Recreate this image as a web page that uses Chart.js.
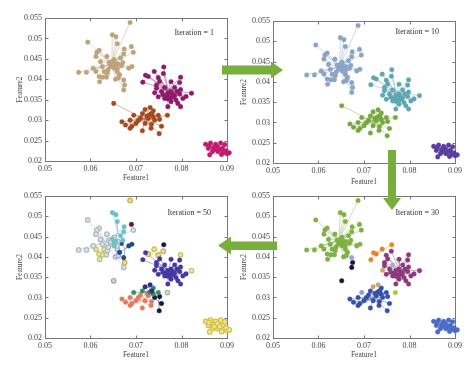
<!DOCTYPE html>
<html><head><meta charset="utf-8">
<script src="https://cdn.jsdelivr.net/npm/chart.js@4.4.1/dist/chart.umd.min.js"></script>
<style>
html,body{margin:0;padding:0;background:#fff;}
#wrap{position:relative;width:474px;height:375px;overflow:hidden;background:#fff;}
canvas{position:absolute;}
svg{position:absolute;left:0;top:0;}
</style></head><body>
<div id="wrap">
<canvas id="c1" width="237" height="187" style="left:0px;top:0px"></canvas>
<canvas id="c2" width="237" height="187" style="left:237px;top:0px"></canvas>
<canvas id="c3" width="237" height="188" style="left:0px;top:187px"></canvas>
<canvas id="c4" width="237" height="188" style="left:237px;top:187px"></canvas>
<svg width="474" height="375">
<polygon fill="#79ad3c" points="222,65.5 271,65.5 271,61.5 283,70 271,78.5 271,74.5 222,74.5"/>
<polygon fill="#79ad3c" points="388,150 396,150 396,198 401,198 392,210 383,198 388,198"/>
<polygon fill="#79ad3c" points="277,241.5 231,241.5 231,236.5 218,245.5 231,254.5 231,250 277,250"/>
</svg>
</div>
<script>
// ---- axes ----
const xTicks = [0.05, 0.06, 0.07, 0.08, 0.09];
const xTickLabels = ['0.05', '0.06', '0.07', '0.08', '0.09'];
const yTicks = [0.02, 0.025, 0.03, 0.035, 0.04, 0.045, 0.05, 0.055];
const yTickLabels = ['0.02', '0.025', '0.03', '0.035', '0.04', '0.045', '0.05', '0.055'];
const xTitle = 'Feature1';
const yTitle = 'Feature2';

// ---- data points (same samples in every panel) ----
const groupA_x = [0.0687,0.0648,0.0656,0.0594,0.0659,0.0690,0.0674,0.0619,0.0614,0.0694,0.0673,0.0612,0.0636,0.0666,0.0622,0.0641,0.0652,0.0655,0.0671,0.0691,0.0684,0.0659,0.0574,0.0591,0.0612,0.0630,0.0637,0.0659,0.0619,0.0627,0.0655,0.0661,0.0620,0.0635,0.0673,0.0675,0.0673,0.0668,0.0644,0.0639,0.0652,0.0664,0.0606,0.0626,0.0645,0.0652,0.0660,0.0648];
const groupA_y = [0.0539,0.0509,0.0504,0.0491,0.0487,0.0480,0.0474,0.0471,0.0466,0.0466,0.0462,0.0456,0.0456,0.0452,0.0443,0.0441,0.0448,0.0438,0.0441,0.0431,0.0427,0.0427,0.0417,0.0417,0.0419,0.0419,0.0415,0.0419,0.0407,0.0405,0.0400,0.0403,0.0394,0.0405,0.0398,0.0386,0.0374,0.0433,0.0431,0.0424,0.0427,0.0411,0.0427,0.0431,0.0437,0.0434,0.0438,0.0444];
const groupB_x = [0.0761,0.0740,0.0721,0.0727,0.0749,0.0798,0.0760,0.0715,0.0777,0.0796,0.0745,0.0745,0.0763,0.0785,0.0798,0.0756,0.0770,0.0777,0.0796,0.0822,0.0749,0.0763,0.0781,0.0788,0.0803,0.0777,0.0792,0.0798,0.0770,0.0759,0.0741,0.0785,0.0810,0.0752,0.0790,0.0770,0.0768,0.0780,0.0775];
const groupB_y = [0.0430,0.0419,0.0410,0.0407,0.0404,0.0405,0.0414,0.0393,0.0394,0.0392,0.0386,0.0378,0.0380,0.0380,0.0375,0.0370,0.0366,0.0370,0.0364,0.0366,0.0357,0.0353,0.0356,0.0349,0.0353,0.0345,0.0341,0.0333,0.0333,0.0362,0.0367,0.0360,0.0358,0.0395,0.0370,0.0352,0.0360,0.0363,0.0355];
const groupC_x = [0.0651,0.0720,0.0731,0.0714,0.0734,0.0695,0.0749,0.0769,0.0687,0.0705,0.0727,0.0741,0.0752,0.0669,0.0677,0.0700,0.0720,0.0734,0.0691,0.0687,0.0714,0.0733,0.0756,0.0751,0.0724,0.0738,0.0710,0.0730,0.0738,0.0735];
const groupC_y = [0.0341,0.0326,0.0331,0.0316,0.0316,0.0312,0.0312,0.0312,0.0300,0.0300,0.0304,0.0300,0.0302,0.0296,0.0288,0.0292,0.0292,0.0290,0.0285,0.0280,0.0274,0.0280,0.0285,0.0267,0.0310,0.0323,0.0306,0.0313,0.0308,0.0316];
const groupD_x = [0.0853,0.0864,0.0875,0.0886,0.0859,0.0870,0.0879,0.0890,0.0868,0.0880,0.0892,0.0900,0.0862,0.0895,0.0884,0.0872,0.0898,0.0905,0.0860,0.0888];
const groupD_y = [0.0241,0.0244,0.0241,0.0244,0.0231,0.0233,0.0235,0.0231,0.0223,0.0223,0.0221,0.0218,0.0215,0.0240,0.0228,0.0228,0.0225,0.0220,0.0238,0.0216];

// ---- cluster assignment per panel (one character per sample) ----
const iter1_A = 'a'.repeat(48), iter1_B = 'b'.repeat(39), iter1_C = 'c'.repeat(30), iter1_D = 'd'.repeat(20);
const iter10_A = iter1_A, iter10_B = iter1_B, iter10_C = iter1_C, iter10_D = iter1_D;
const iter50_A = 'ottgtmtgggtggtgggttddgggyyglyyllygdqgdggtdgg' + 'gtgt';
const iter50_B = 'nuivvwvi' + 'iiiiiiiiiii' + 'x' + 'iiiiiiiiiiiiiiii' + 'iii';
const iter50_C = 'hjjGGGGkRRRNNRRRRRRRRRNNRGR' + 'GGj';
const iter50_D = 'z'.repeat(20);
const iter30_A = 'g'.repeat(34) + 'bnp' + 'g'.repeat(7) + 'gggg';
const iter30_B = 'OOOOPPPO' + 'PPPP' + 'k' + 'P'.repeat(17) + 'T' + 'PPPPP' + 'PPP';
const iter30_C = 'qUUBBLBY' + 'B'.repeat(19) + 'BBB';
const iter30_D = 'D'.repeat(20);

const panels = [
  {id:'c1', text:'Iteration = 1', lab:[iter1_A,iter1_B,iter1_C,iter1_D],
   colors:{a:'#bda27c',b:'#8c1b6b',c:'#a6491f',d:'#c21b6e'}, rings:'',
   pad:{left:11,right:7,top:18,bottom:0}, xh:26, ytp:5, xtp:4.5, tdx:13, tdy:15},
  {id:'c2', text:'Iteration = 10', lab:[iter10_A,iter10_B,iter10_C,iter10_D],
   colors:{a:'#8aa3c6',b:'#5fa6b0',c:'#77a83e',d:'#5a3e9e'}, rings:'',
   pad:{left:2,right:19,top:21,bottom:0}, xh:24, ytp:0.5, xtp:0.5, tdx:16, tdy:11},
  {id:'c3', text:'Iteration = 50', lab:[iter50_A,iter50_B,iter50_C,iter50_D],
   colors:{o:'#c9b24a',q:'#c9b24a',t:'#6fbfc6',g:'#aebbc4',m:'#6a1838',d:'#1f4b8c',y:'#c2c756',l:'#a4aad8',
           n:'#16184a',u:'#c9c24a',v:'#cdb045',w:'#c8c85a',x:'#d2c466',i:'#4437a0',h:'#9ea3a8',j:'#3a2a7a',
           G:'#2f8c6e',k:'#a9b98e',R:'#e37a5f',N:'#15163a',z:'#d6c440'}, rings:'gylouvwxhkqz',
   pad:{left:11,right:7,top:9,bottom:11}, xh:26, ytp:5, xtp:4.5, tdx:16, tdy:17},
  {id:'c4', text:'Iteration = 30', lab:[iter30_A,iter30_B,iter30_C,iter30_D],
   colors:{g:'#7fb043',b:'#8ea3e6',n:'#15163a',p:'#15163a',q:'#15163a',O:'#e8832a',P:'#8b3a7f',k:'#9fb3b8',
           T:'#c9a66e',U:'#c2a878',L:'#8d9de3',Y:'#a9c23c',B:'#3550a8',D:'#4b6bc9'}, rings:'',
   pad:{left:2,right:19,top:9,bottom:11}, xh:26, ytp:0.5, xtp:4.5, tdx:16, tdy:17}
];

function mix(hex, t, a) {
  const r = parseInt(hex.slice(1,3),16), g = parseInt(hex.slice(3,5),16), b = parseInt(hex.slice(5,7),16);
  const f = v => Math.round(v + (255 - v) * t);
  return 'rgba(' + f(r) + ',' + f(g) + ',' + f(b) + ',' + (a === undefined ? 1 : a) + ')';
}

const allX = [groupA_x, groupB_x, groupC_x, groupD_x];
const allY = [groupA_y, groupB_y, groupC_y, groupD_y];

const iterPlugin = {
  id: 'iter',
  afterDatasetsDraw(chart, args, opts) {
    const {ctx, chartArea: a} = chart;
    ctx.save();
    ctx.font = '8px "Liberation Serif", serif';
    ctx.fillStyle = '#333';
    ctx.textAlign = 'right';
    ctx.textBaseline = 'middle';
    ctx.fillText(opts.text, a.right - opts.dx, a.top + opts.dy);
    ctx.restore();
  }
};
const boxPlugin = {
  id: 'box',
  beforeDatasetsDraw(chart) {
    const {ctx, chartArea: a, scales} = chart;
    ctx.save();
    ctx.strokeStyle = '#777';
    ctx.lineWidth = 1;
    const L = Math.round(a.left) + 0.5, T = Math.round(a.top) + 0.5;
    const R = Math.round(a.right) + 0.5, B = Math.round(a.bottom) + 0.5;
    ctx.strokeRect(L, T, R - L, B - T);
    ctx.beginPath();
    scales.x.ticks.forEach(t => {
      const px = Math.round(scales.x.getPixelForValue(t.value)) + 0.5;
      ctx.moveTo(px, B); ctx.lineTo(px, B - 3);
      ctx.moveTo(px, T); ctx.lineTo(px, T + 3);
    });
    scales.y.ticks.forEach(t => {
      const py = Math.round(scales.y.getPixelForValue(t.value)) + 0.5;
      ctx.moveTo(L, py); ctx.lineTo(L + 3, py);
      ctx.moveTo(R, py); ctx.lineTo(R - 3, py);
    });
    ctx.stroke();
    ctx.restore();
  }
};

const tickFont = {family: '"Liberation Serif", serif', size: 8};
const titleFont = {family: '"Liberation Serif", serif', size: 7.5};

panels.forEach(P => {
  const clusters = {};
  const order = [];
  P.lab.forEach((s, gi) => {
    for (let i = 0; i < s.length; i++) {
      const ch = s[i];
      if (!clusters[ch]) { clusters[ch] = []; order.push(ch); }
      clusters[ch].push({x: allX[gi][i], y: allY[gi][i]});
    }
  });
  const datasets = [];
  order.forEach(ch => {
    const pts = clusters[ch];
    const col = P.colors[ch];
    const ring = P.rings.indexOf(ch) >= 0;
    if (pts.length > 1) {
      const cx = pts.reduce((s, p) => s + p.x, 0) / pts.length;
      const cy = pts.reduce((s, p) => s + p.y, 0) / pts.length;
      const seg = [];
      pts.forEach(p => { seg.push({x: p.x, y: p.y}); seg.push({x: cx, y: cy}); seg.push({x: cx, y: null}); });
      datasets.push({data: seg, showLine: true, spanGaps: false, pointRadius: 0, borderColor: mix(col, 0.3, 0.75),
        borderWidth: 0.8, order: 2, clip: false});
    }
    datasets.push({data: pts, showLine: false, pointRadius: 2.3,
      pointBackgroundColor: ring ? mix(col, 0.55) : col,
      pointBorderColor: ring ? col : col,
      pointBorderWidth: ring ? 1.2 : 0.4, order: 1, clip: false});
  });

  new Chart(document.getElementById(P.id), {
    type: 'scatter',
    data: {datasets},
    options: {
      responsive: false, animation: false, devicePixelRatio: 1,
      layout: {padding: P.pad},
      plugins: {legend: {display: false}, tooltip: {enabled: false}, iter: {text: P.text, dx: P.tdx, dy: P.tdy}},
      scales: {
        x: {type: 'linear', min: 0.05, max: 0.09,
          afterBuildTicks: s => { s.ticks = xTicks.map(v => ({value: v})); },
          afterFit: s => { s.height = P.xh; },
          ticks: {font: tickFont, color: '#444', padding: 3, maxRotation: 0, callback: (v, i) => xTickLabels[i]},
          grid: {display: false, drawTicks: false}, border: {display: false},
          title: {display: true, text: xTitle, font: titleFont, color: '#444', padding: {top: 0, bottom: P.xtp}}},
        y: {type: 'linear', min: 0.02, max: 0.055,
          afterBuildTicks: s => { s.ticks = yTicks.map(v => ({value: v})); },
          afterFit: s => { s.width = 34; },
          ticks: {font: tickFont, color: '#444', padding: 3, callback: (v, i) => yTickLabels[i]},
          grid: {display: false, drawTicks: false}, border: {display: false},
          title: {display: true, text: yTitle, font: titleFont, color: '#444', padding: {top: P.ytp, bottom: 0}}}
      }
    },
    plugins: [boxPlugin, iterPlugin]
  });
});
</script>
</body></html>
